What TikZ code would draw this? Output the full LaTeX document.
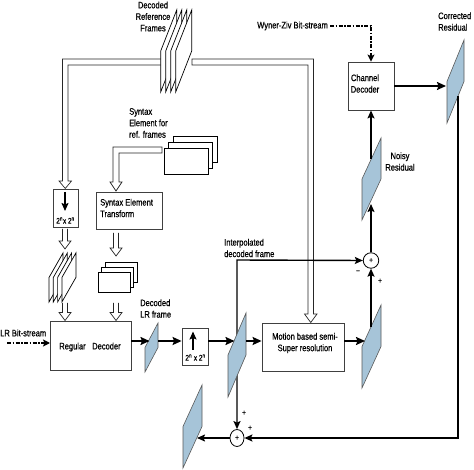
\documentclass[tikz,border=0pt]{standalone}
\usepackage{fontspec}
\setmainfont[FakeStretch=0.8, FakeBold=0.6]{Liberation Sans}
\usetikzlibrary{arrows.meta,shapes.geometric}
\definecolor{planeblue}{RGB}{166,196,216}
\newcommand\blueplane[5]{\draw[plane] (#2,#3) -- ++(0,{-(#5)/2}) -- ++(#4,{-(#5)/2}) -- ++(0,{(#5)/2}) -- cycle; \coordinate (#1) at ({#2+(#4)/2},{#3-(#5)/2});}
\newcommand\refsheet[5]{\draw[frm] (#2,#3) -- ++(0,{-(#5)/2}) -- ++(#4,{-(#5)/2}) -- ++(0,{(#5)/2}) -- cycle; \coordinate (#1) at ({#2+(#4)/2},{#3-(#5)/2});}
\newcommand\hollowdown[3]{\draw[hollow] ({#1-2.5},#2) -- ({#1-2.5},{#3-8}) -- ({#1-6},{#3-8}) -- (#1,#3) -- ({#1+6},{#3-8}) -- ({#1+2.5},{#3-8}) -- ({#1+2.5},#2);}
\tikzset{
  box/.style={draw=black!75, line width=0.8pt, fill=white, inner sep=0pt},
  plane/.style={fill=planeblue, draw=black!65, line width=0.6pt, line join=miter},
  frm/.style={fill=white, draw=black, line width=0.7pt, line join=miter},
  hollow/.style={draw=black!85, line width=0.7pt, line join=miter},
  lbl/.style={font=\fontsize{9.4}{11.5}\selectfont, inner sep=0pt},
  sml/.style={font=\fontsize{8}{9}\selectfont, inner sep=0pt},
  arrA/.style={line width=1.9pt, -{Stealth[length=9pt,width=8pt,inset=1.5pt]}},
  arrB/.style={line width=1.4pt, -{Stealth[length=8pt,width=7pt,inset=1.5pt]}},
  ddash/.style={line width=1.4pt, dash pattern=on 4pt off 1.5pt on 1.5pt off 1.5pt, -{Stealth[length=7pt,width=7pt,inset=1.5pt]}},
}
\begin{document}
\begin{tikzpicture}[x=1pt,y=-1pt]
\useasboundingbox (0,0) rectangle (474,470);

% hollow arrows from reference frames
\draw[hollow] (161,59) -- (62.5,59) -- (62.5,181) -- (59,181) -- (65.25,188.5) -- (71.5,181) -- (68,181) -- (68,65) -- (161,65);
\draw[hollow] (192,65) -- (192,59) -- (313.5,59) -- (313.5,314) -- (317,314) -- (310.75,322.5) -- (304.5,314) -- (308,314) -- (308,65) -- cycle;

% decoded reference frames
\foreach \i in {0,...,3} {\refsheet{rf\i}{160.7+5*\i}{92}{16}{82}}
\node[lbl, align=center] (reflbl) at (153,16.5) {Decoded\\Reference\\Frames};

% syntax elements for ref frames
\draw[frm] (173,136) rectangle (217,162);
\draw[frm] (168.5,142) rectangle (212.5,168);
\node[draw=black, line width=0.7pt, fill=white, minimum width=44pt, minimum height=26pt, inner sep=0pt] (synstack) at (186,161) {};
\node[lbl, anchor=west, align=left] (synlbl) at (129,123) {Syntax\\Element for\\ref. frames};
\draw[hollow] (162,153) -- (162,147) -- (113,147) -- (113,182) -- (110,182) -- (116,191) -- (122,182) -- (119,182) -- (119,153) -- cycle;

% downsampling box
\node[box, minimum width=25pt, minimum height=38pt] (down) at (65.5,208) {};
\draw[arrB] (65,192) -- (65,211);
\node[sml] (downtxt) at (65.5,220.5) {2\textsuperscript{n}x 2\textsuperscript{n}};

% syntax element transform
\node[box, minimum width=66pt, minimum height=37pt] (sxt) at (129,210.5) {};
\node[lbl, anchor=west, align=left] (sxtlbl) at (100,208) {Syntax Element\\Transform};

% arrows to stacks
\hollowdown{65}{229}{249}
\hollowdown{116}{233}{256}

% down-sampled frame stack
\foreach \i in {0,...,3} {\refsheet{fs\i}{49+4.3*\i}{302}{14}{49}}

% transformed syntax stack
\draw[frm] (105,262) rectangle (137,282);
\draw[frm] (101.5,267) rectangle (133.5,287);
\node[draw=black, line width=0.7pt, fill=white, minimum width=32pt, minimum height=20pt, inner sep=0pt] (sxstack) at (114,282) {};

\hollowdown{65}{303}{320.5}
\hollowdown{116}{303}{320.5}

% regular decoder
\node[box, minimum width=81pt, minimum height=49pt] (dec) at (90.5,345.5) {};
\node[lbl] (declbl) at (90,347) {Regular\hspace{0.7em}Decoder};

\node[lbl, anchor=west] (lrbs) at (0,333) {LR Bit-stream};
\coordinate (lrs) at (7,343);
\draw[ddash] (lrs) -- (50,343);

% decoded LR frame
\blueplane{lrf}{145}{372}{13}{49}
\node[lbl, anchor=west, align=left] (lrlbl) at (140,308.5) {Decoded\\LR frame};
\draw[arrA] (131,341) -- (149.5,341);

% upsampling box
\node[box, minimum width=26pt, minimum height=37pt] (up) at (195,346.5) {};
\draw[arrB] (193,350) -- (193,331.5);
\node[sml] (uptxt) at (195.5,357.5) {2\textsuperscript{n} x 2\textsuperscript{n}};
\draw[arrA] (158,341) -- (up.west |- 0,341);

% interpolated line (behind plane)
\node[draw=black, line width=0.8pt, fill=white, circle, minimum size=15.5pt, inner sep=0pt] (c1) at (371,260.5) {};
\node[draw=black, line width=0.8pt, fill=white, ellipse, minimum width=14pt, minimum height=17pt, inner sep=0pt] (c2) at (237,438) {};
\coordinate (ip) at (237,260);
\draw[line width=1.4pt, line join=miter, {Stealth[length=8pt,width=7pt,inset=1.5pt]}-{Stealth[length=8pt,width=7pt,inset=1.5pt]}] (c2.north) -- (ip) -- (c1.west);
\node[lbl, anchor=west, align=left] (iplbl) at (224,248) {Interpolated\\decoded frame};

% interpolated plane
\blueplane{ipf}{228}{397}{18}{84}
\draw[arrA] (208,341) -- (234.5,341);

% motion based SR
\node[box, minimum width=82pt, minimum height=48pt] (mot) at (303,347) {};
\node[lbl, align=center] (motlbl) at (305,343) {Motion based semi-\\Super resolution};
\draw[arrA] (246,341) -- (mot.west |- 0,341);

% SR output plane
\blueplane{srf}{362}{388}{19}{83}
\draw[arrA] (mot.east |- 0,341) -- (365,341);

% subtraction node
\node[sml] (c1t) at (c1) {+};
\node[sml] (c1m) at (358,272) {\textminus};
\node[sml] (c1p) at (380,281) {+};
\draw[arrB] (371,327) -- (c1.south);

% noisy residual
\blueplane{noisy}{362}{220}{19}{82}
\draw[arrB] (c1.north) -- (371,204);
\node[lbl, align=center] (noisylbl) at (400,161.5) {Noisy\\Residual};

% channel decoder
\node[box, minimum width=46pt, minimum height=48pt] (chan) at (371,86) {};
\node[lbl, align=center] (chanlbl) at (365,83.5) {Channel\\Decoder};
\draw[arrB] (371,159) -- (chan.south);

\node[lbl, anchor=east] (wz) at (328,26) {Wyner-Ziv Bit-stream};
\draw[ddash] (330,26) -| (chan.north);

% corrected residual
\blueplane{corr}{447}{123}{17}{83}
\node[lbl, anchor=west, align=left] (corrlbl) at (438,21.5) {Corrected\\Residual};
\draw[arrA] (chan.east) -- (446,86);

% addition node
\node[sml] (c2t) at (c2) {+};
\node[sml] (c2p1) at (244,413) {+};
\node[sml] (c2p2) at (250,428) {+};
\draw[arrB, line join=miter] (458,96) |- (c2.east);

% output plane
\blueplane{outf}{183}{468}{19}{83}
\draw[arrB] (c2.west) -- (197,438);
\end{tikzpicture}
\end{document}
